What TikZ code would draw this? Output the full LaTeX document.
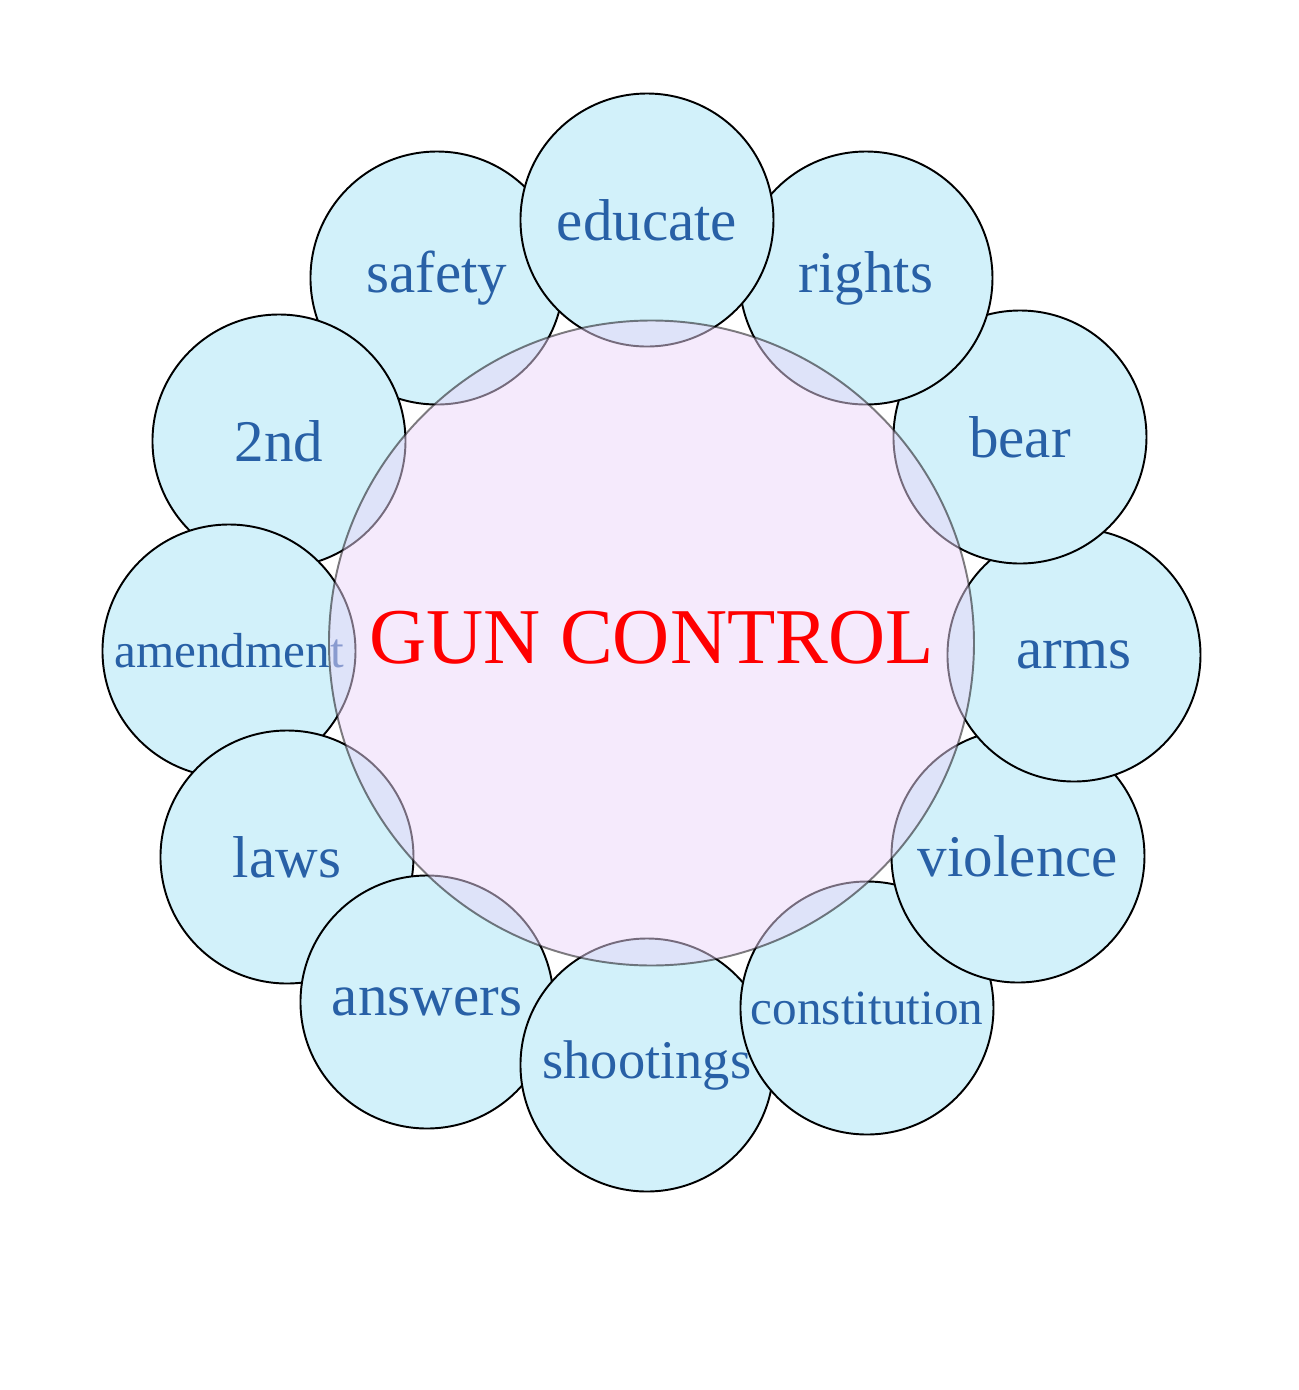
\documentclass[tikz,border=0pt]{standalone}
\usepackage{fontspec}
\setmainfont{Liberation Serif}
\usetikzlibrary{calc}
\definecolor{bubblecyan}{RGB}{210,241,250}
\definecolor{hublilac}{RGB}{235,214,249}
\definecolor{wordblue}{RGB}{40,96,166}

\begin{document}
\begin{tikzpicture}
\tikzstyle{hub}=[circle, draw=black, fill=hublilac, fill opacity=0.5, draw opacity=0.5, minimum size=6.45cm, line width=0.55pt]
\tikzstyle{bubble}=[circle, draw=black, fill=bubblecyan, minimum size=2.53cm, inner sep=0pt, line width=0.55pt, text=wordblue, font=\fontsize{16.8}{19}\selectfont]
\tikzstyle{smallword}=[font=\fontsize{14}{16}\selectfont]
\tikzstyle{midword}=[font=\fontsize{15.5}{18}\selectfont]
\tikzstyle{title}=[text=red, font=\fontsize{22.5}{26}\selectfont]

\useasboundingbox (-6.50,6.43) rectangle (6.49,-7.47);
\coordinate (mid) at (0,0);

% ring, counter-clockwise so that each bubble lies over the one before
\node[bubble] (safety)       at ([shift={(-2.13,3.65)}]mid)  {safety};
\node[bubble] (second)       at ([shift={(-3.71,2.02)}]mid)  {2nd};
\node[bubble, smallword] (amendment) at ([shift={(-4.21,-0.08)}]mid) {amendment};
\node[bubble] (laws)         at ([shift={(-3.63,-2.14)}]mid) {laws};
\node[bubble] (answers)      at ([shift={(-2.23,-3.59)}]mid) {answers};
\node[bubble, midword] (shootings) at ([shift={(-0.03,-4.22)}]mid) {shootings};
\node[bubble, smallword] (constitution) at ([shift={(2.17,-3.65)}]mid) {constitution};
\node[bubble] (violence)     at ([shift={(3.68,-2.13)}]mid)  {violence};
\node[bubble] (arms)         at ([shift={(4.24,-0.12)}]mid)  {arms};
\node[bubble] (bear)         at ([shift={(3.70,2.06)}]mid)   {bear};
\node[bubble] (rights)       at ([shift={(2.16,3.65)}]mid)   {rights};
\node[bubble] (educate)      at ([shift={(-0.03,4.23)}]mid)  {educate};

% centre
\node[hub] (gun) at ([xshift=0.015cm]mid) {};
\node[title] (gunlabel) at ([yshift=0.05cm]gun) {GUN CONTROL};

\end{tikzpicture}
\end{document}
